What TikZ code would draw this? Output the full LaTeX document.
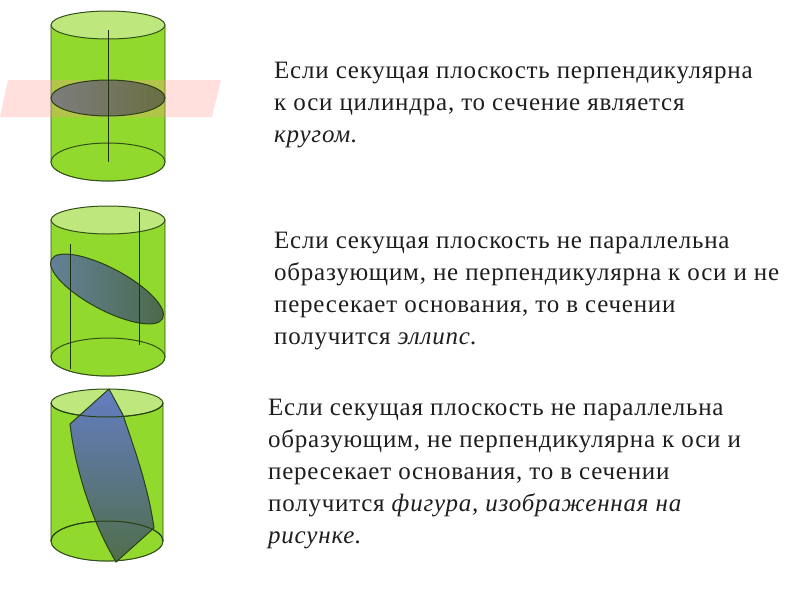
\documentclass[tikz,border=0pt]{standalone}
\usepackage{fontspec}
\setmainfont[LetterSpace=3.1]{Liberation Serif}
\definecolor{cylgreen}{RGB}{146,217,46}
\definecolor{capgreen}{RGB}{190,232,125}
\definecolor{edgegreen}{RGB}{50,80,25}
\definecolor{planepink}{RGB}{255,153,140}
\definecolor{textgrey}{RGB}{30,30,30}
\definecolor{roundleft}{RGB}{125,125,125}
\definecolor{roundright}{RGB}{105,110,65}
\definecolor{ovalleft}{RGB}{100,130,155}
\definecolor{ovalright}{RGB}{75,105,70}
\definecolor{figtop}{RGB}{100,125,195}
\definecolor{figmid}{RGB}{78,112,115}
\definecolor{figbottom}{RGB}{80,110,75}
\tikzset{
  cylbody/.style={fill=cylgreen,draw=edgegreen,line width=.8pt},
  cylcap/.style={fill=capgreen,draw=edgegreen,line width=1pt},
  cylbase/.style={fill=cylgreen,draw=edgegreen,line width=1pt},
  cutline/.style={draw=edgegreen!80!black,line width=1pt},
  genline/.style={draw=edgegreen!60!black,line width=.9pt},
  cuttext/.style={anchor=north west,align=left,inner sep=0pt,text=textgrey,
    font=\fontsize{25}{32}\selectfont},
}
\begin{document}
\begin{tikzpicture}[x=1pt,y=-1pt]
    \useasboundingbox (0,0) rectangle (800,600);
    % first cylinder
    \path[cylbody] (51,25) -- (51,162) arc [start angle=180,end angle=0,x radius=57,y radius=19] -- (165,25) -- cycle;
    \path[cylbase] (108,162) ellipse [x radius=57,y radius=19];
    \path[cylcap] (108,25) ellipse [x radius=57,y radius=14];
    \fill[planepink,opacity=.3] (8,80) -- (221,80) -- (212,117) -- (0,117) -- cycle;
    \path[cutline,left color=roundleft,right color=roundright]
      (108,98) ellipse [x radius=57,y radius=18];
    \coordinate (axisA) at (108,30);
    \coordinate (axisB) at (108,162);
    \path[genline] (axisA) -- (axisB);
    % second cylinder
    \path[cylbody] (51,220) -- (51,357) arc [start angle=180,end angle=0,x radius=57,y radius=19] -- (165,220) -- cycle;
    \path[cylbase] (108,357) ellipse [x radius=57,y radius=19];
    \path[cylcap] (108,220) ellipse [x radius=57,y radius=14];
    \path[shift={(107,289)},rotate=-28,cutline,left color=ovalleft,right color=ovalright]
      (0,0) ellipse [x radius=63,y radius=21];
    \coordinate (genA) at (70,244);
    \coordinate (genB) at (70,369);
    \coordinate (genC) at (139,212);
    \coordinate (genD) at (139,345);
    \path[genline] (genA) -- (genB);
    \path[genline] (genC) -- (genD);
    % third cylinder
    \path[cylbody] (51,403) -- (51,541) arc [start angle=180,end angle=0,x radius=56,y radius=20] -- (163,403) -- cycle;
    \path[cylbase] (107,541) ellipse [x radius=56,y radius=20];
    \path[cylcap] (107,403) ellipse [x radius=56,y radius=14];
    \path[cutline,top color=figtop,middle color=figmid,bottom color=figbottom]
      (109,389) -- (70,424) .. controls (74,460) and (88,515) .. (116,562)
      -- (154,528) .. controls (148,485) and (133,445) .. (123,415) -- cycle;
    \path[cutline] (51,403) arc [start angle=180,end angle=0,x radius=56,y radius=14];
    \path[cutline] (51,541) arc [start angle=180,end angle=360,x radius=56,y radius=20];
    % texts
    \node[cuttext] (textA) at (274,61.5) {Если секущая плоскость перпендикулярна\\к оси цилиндра, то сечение является\\\textit{кругом.}};
    \node[cuttext] (textB) at (274,232) {Если секущая плоскость не параллельна\\образующим, не перпендикулярна к оси и не\\пересекает основания, то в сечении\\получится \textit{эллипс.}};
    \node[cuttext] (textC) at (268,398.5) {Если секущая плоскость не параллельна\\образующим, не перпендикулярна к оси и\\пересекает основания, то в сечении\\получится \textit{фигура, изображенная на}\\\textit{рисунке.}};
\end{tikzpicture}
\end{document}
